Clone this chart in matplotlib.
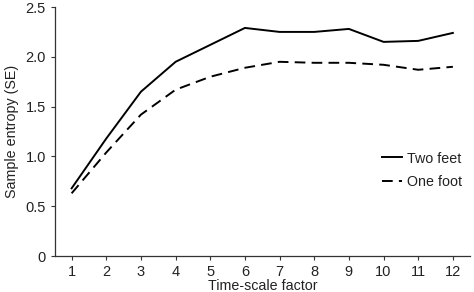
import matplotlib
matplotlib.use("Agg")
import matplotlib.pyplot as plt

plt.rcParams['font.family'] = ['Liberation Sans', 'DejaVu Sans']

# Time-scale factors and sample entropy per condition
scales = [1, 2, 3, 4, 5, 6, 7, 8, 9, 10, 11, 12]
two_feet = [0.68, 1.18, 1.65, 1.95, 2.12, 2.29, 2.25, 2.25, 2.28, 2.15, 2.16, 2.24]
one_foot = [0.63, 1.04, 1.42, 1.67, 1.80, 1.89, 1.95, 1.94, 1.94, 1.92, 1.87, 1.90]
yticks = [0, 0.5, 1.0, 1.5, 2.0, 2.5]
ytick_labels = ['0', '0.5', '1.0', '1.5', '2.0', '2.5']

fig = plt.figure(figsize=(4.74, 2.92), dpi=100)
ax = fig.add_axes([0.116, 0.123, 0.876, 0.853])

ax.plot(scales, two_feet, color='black', lw=1.4, label='Two feet')
ax.plot(scales, one_foot, color='black', lw=1.4, ls=(0, (5.5, 3.2)), label='One foot')

ax.set_xlim(0.52, 12.5)
ax.set_ylim(0, 2.5)
ax.set_xticks(scales)
ax.set_yticks(yticks)
ax.set_yticklabels(ytick_labels)
ax.tick_params(labelsize=10.5, length=3, width=0.8, color='#333333', labelcolor='#222222')
ax.spines['top'].set_visible(False)
ax.spines['right'].set_visible(False)
for s in ['left', 'bottom']:
    ax.spines[s].set_linewidth(0.9)
    ax.spines[s].set_color('#333333')

ax.set_xlabel('Time-scale factor', fontsize=10.3, color='#222222', labelpad=0)
ax.set_ylabel('Sample entropy (SE)', fontsize=10.3, color='#222222', labelpad=5)

ax.legend(loc='center right', bbox_to_anchor=(1.012, 0.345), frameon=False,
          fontsize=10.3, handlelength=1.45, handletextpad=0.35, labelspacing=0.65,
          labelcolor='#222222')

fig.savefig('out.png', dpi=100)
